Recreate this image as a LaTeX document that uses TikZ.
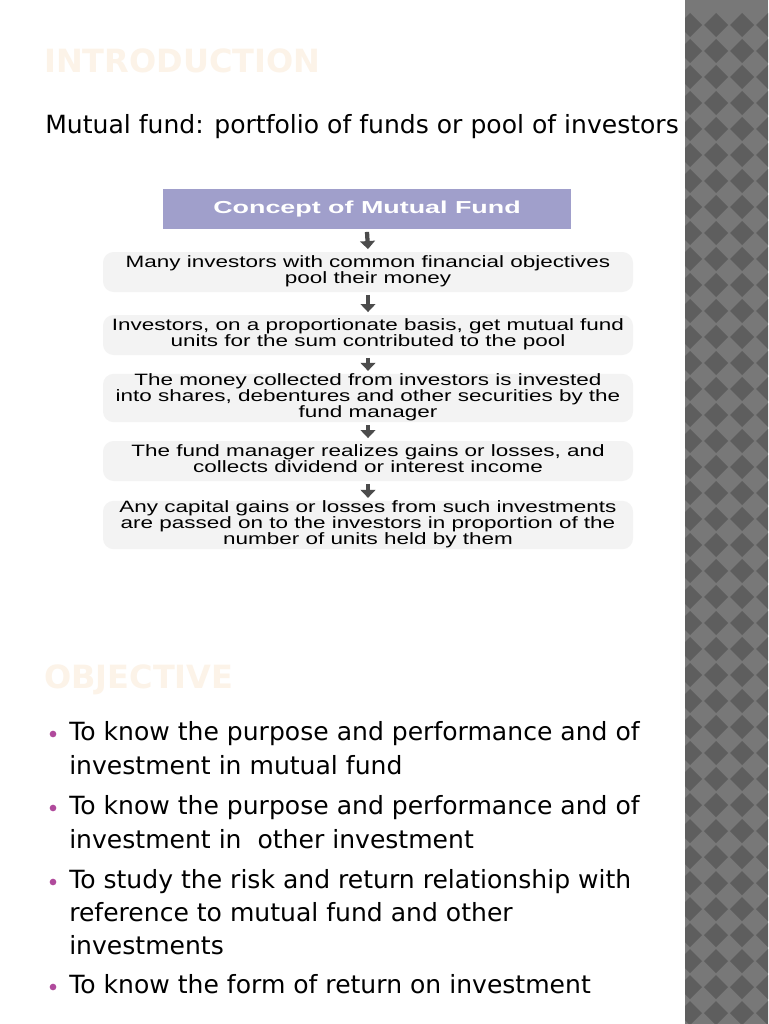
\documentclass[tikz,border=0pt]{standalone}
\usepackage{fontspec}
\usetikzlibrary{arrows.meta}
\setmainfont{DejaVu Sans}
\newfontfamily\arial{Liberation Sans}
\definecolor{hdr}{HTML}{A09FCB}
\definecolor{boxf}{HTML}{F3F3F3}
\definecolor{ttl}{HTML}{FCF3E8}
\definecolor{bul}{HTML}{B04A9C}
\definecolor{strip}{HTML}{787878}
\definecolor{dia}{HTML}{5E5E5E}
\newcommand\widetxt[1]{\scalebox{1.37}[1]{\begin{tabular}{@{}c@{}}#1\end{tabular}}}
\begin{document}
\begin{tikzpicture}[x=0.75pt,y=-0.75pt,
  stepbox/.style={fill=boxf,rounded corners=8pt,minimum width=530*0.75pt,minimum height=40*0.75pt,align=center,font=\arial\fontsize{12.3}{10.6}\selectfont,inner sep=0pt},
  flowarrow/.style={draw=black!70,line width=3.2pt,-{Triangle[length=6pt,width=11pt]}},
  body/.style={anchor=base west,font=\fontsize{18.8}{20}\selectfont,inner sep=0pt},
  bdot/.style={fill=bul,circle,inner sep=0pt,minimum size=5pt}]
\useasboundingbox (0,0) rectangle (768,1024);
\fill[white] (0,0) rectangle (768,1024);
% right strip
\begin{scope}
\clip (684,0) rectangle (768,1024);
\fill[strip] (684,0) rectangle (768,1024);
\foreach \i in {0,...,4}{\foreach \j in {0,...,40}{
  \fill[dia] ({690+26*\i},{13+26*\j}) -- ++(12,12) -- ++(-12,12) -- ++(-12,-12) -- cycle;}}
\end{scope}
\draw[white,line width=1.2pt] (684,0) -- (684,1024);
% titles
\node[anchor=base west,text=ttl,font=\bfseries\fontsize{24}{26}\selectfont,inner sep=0pt] (t1) at (44,73) {INTRODUCTION};
\node[body] (sub) at (45,133) {Mutual fund: portfolio of funds or pool of investors};
% flowchart
\node[fill=hdr,minimum width=408*0.75pt,minimum height=40*0.75pt,text=white,font=\arial\bfseries\fontsize{13}{12}\selectfont] (h) at (367,209) {\scalebox{1.55}[1]{Concept of Mutual Fund}};
\node[stepbox] (b1) at (368,272) {\widetxt{Many investors with common financial objectives\\pool their money}};
\node[stepbox] (b2) at (368,335) {\widetxt{Investors, on a proportionate basis, get mutual fund\\units for the sum contributed to the pool}};
\node[stepbox,minimum height=42*0.75pt] (b3) at (368,398) {\widetxt{The money collected from investors is invested\\into shares, debentures and other securities by the\\fund manager}};
\node[stepbox] (b4) at (368,461) {\widetxt{The fund manager realizes gains or losses, and\\collects dividend or interest income}};
\node[stepbox] (b5) at (368,525) {\widetxt{Any capital gains or losses from such investments\\are passed on to the investors in proportion of the\\number of units held by them}};
\draw[flowarrow] ([yshift=-2]h.south) -- ([yshift=2]b1.north);
\draw[flowarrow] ([yshift=-2]b1.south) -- ([yshift=2]b2.north);
\draw[flowarrow] ([yshift=-2]b2.south) -- ([yshift=2]b3.north);
\draw[flowarrow] ([yshift=-2]b3.south) -- ([yshift=2]b4.north);
\draw[flowarrow] ([yshift=-2]b4.south) -- ([yshift=2]b5.north);
% objective
\node[anchor=base west,text=ttl,font=\bfseries\fontsize{24}{26}\selectfont,inner sep=0pt] (t2) at (44,688) {OBJECTIVE};
\node[bdot] (d1) at (53,734) {};
\node[body] (l1) at (69,740) {To know the purpose and performance and of};
\node[body] (l1b) at (69,774) {investment in mutual fund};
\node[bdot] (d2) at (53,808) {};
\node[body] (l2) at (69,814) {To know the purpose and performance and of};
\node[body] (l2b) at (69,848) {investment in\ \ other investment};
\node[bdot] (d3) at (53,882) {};
\node[body] (l3) at (69,888) {To study the risk and return relationship with};
\node[body] (l3b) at (69,921) {reference to mutual fund and other};
\node[body] (l3c) at (69,954) {investments};
\node[bdot] (d4) at (53,987) {};
\node[body] (l4) at (69,993) {To know the form of return on investment};
\end{tikzpicture}
\end{document}
